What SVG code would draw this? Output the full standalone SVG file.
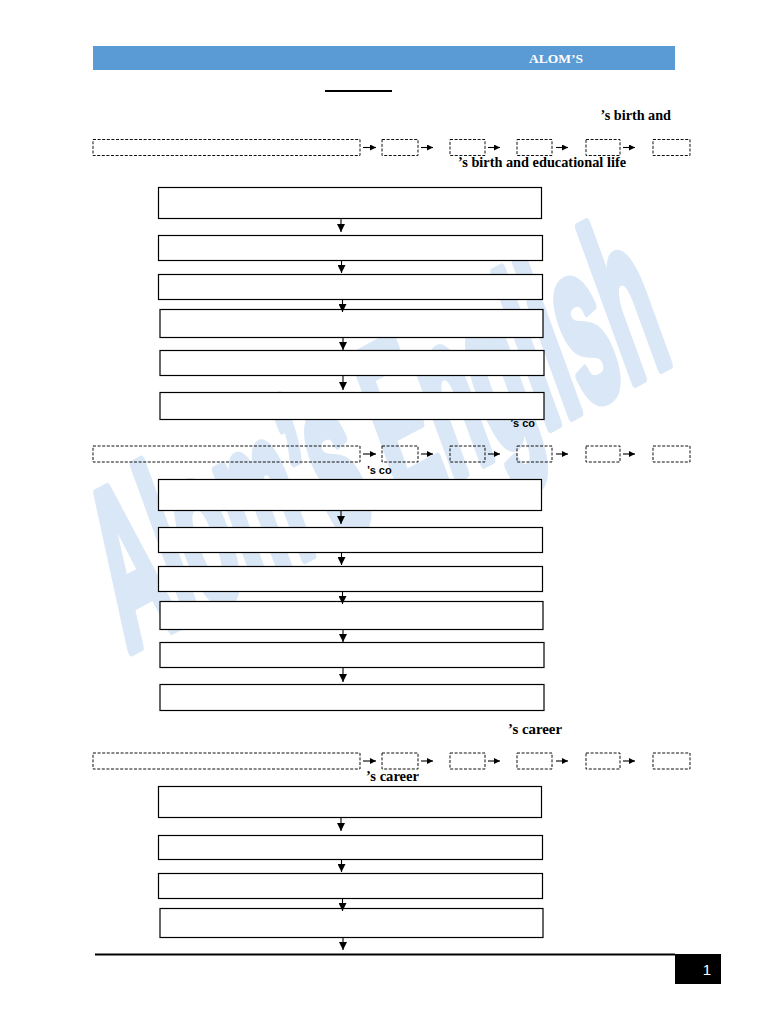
<svg xmlns="http://www.w3.org/2000/svg" width="768" height="1024" viewBox="0 0 768 1024">
<style>
.box{fill:#fff;stroke:#000;stroke-width:1.2}
.dash{fill:none;stroke:#111;stroke-width:1;stroke-dasharray:3,1.6}
.conn line{stroke:#000;stroke-width:1.1}
.ser{font-family:"Liberation Serif",serif;font-weight:bold;font-size:14.2px;fill:#000}
.sans{font-family:"Liberation Sans",sans-serif;font-weight:bold;font-size:11px;fill:#000}
</style>
<defs>
<marker id="ah" markerUnits="userSpaceOnUse" markerWidth="6" markerHeight="6" viewBox="0 0 6 6" refX="6" refY="3" orient="auto"><path d="M0,0 L6,3 L0,6 z" fill="#000"/></marker>
<marker id="av" markerUnits="userSpaceOnUse" markerWidth="8" markerHeight="8" viewBox="0 0 8 8" refX="8" refY="4" orient="auto"><path d="M0,0 L8,4 L0,8 z" fill="#000"/></marker>
</defs>
<rect width="768" height="1024" fill="#fff"/>
<g id="watermark">
<text transform="matrix(0.302,-0.161,0.308,0.846,128,652)" x="0" y="0" textLength="1810" lengthAdjust="spacingAndGlyphs" font-family="Liberation Sans, sans-serif" font-weight="bold" font-size="250" fill="#d9e7f6" stroke="#d9e7f6" stroke-width="13" stroke-linejoin="round">Alom’s English</text>
</g>
<g id="header">
<rect x="93" y="46" width="582" height="24" fill="#5b9bd5"/>
<text x="556" y="63" text-anchor="middle" font-family="Liberation Serif, serif" font-weight="bold" font-size="13.5" fill="#fff">ALOM’S</text>
<line x1="325" y1="91" x2="392" y2="91" stroke="#000" stroke-width="2"/>
</g>
<g id="labels">
<text class="ser" x="671" y="120" text-anchor="end">’s birth and</text>
<text class="ser" x="458" y="167" textLength="168" lengthAdjust="spacingAndGlyphs">’s birth and educational life</text>
<text class="sans" x="535" y="427" text-anchor="end">’s co</text>
<text class="sans" x="367" y="474">’s co</text>
<text class="ser" x="508" y="734" textLength="54" lengthAdjust="spacingAndGlyphs">’s career</text>
<text class="ser" x="366" y="781" textLength="53" lengthAdjust="spacingAndGlyphs">’s career</text>
</g>
<g id="row1">
<rect class="dash" x="93" y="139.5" width="267" height="16"/>
<rect class="dash" x="382" y="139.5" width="36" height="16"/>
<rect class="dash" x="450" y="139.5" width="35" height="16"/>
<rect class="dash" x="517" y="139.5" width="35" height="16"/>
<rect class="dash" x="586" y="139.5" width="34" height="16"/>
<rect class="dash" x="653" y="139.5" width="37" height="16"/>
</g>
<g id="row2">
<rect class="dash" x="93" y="446" width="267" height="16"/>
<rect class="dash" x="382" y="446" width="36" height="16"/>
<rect class="dash" x="450" y="446" width="35" height="16"/>
<rect class="dash" x="517" y="446" width="35" height="16"/>
<rect class="dash" x="586" y="446" width="34" height="16"/>
<rect class="dash" x="653" y="446" width="37" height="16"/>
</g>
<g id="row3">
<rect class="dash" x="93" y="753" width="267" height="16"/>
<rect class="dash" x="382" y="753" width="36" height="16"/>
<rect class="dash" x="450" y="753" width="35" height="16"/>
<rect class="dash" x="517" y="753" width="35" height="16"/>
<rect class="dash" x="586" y="753" width="34" height="16"/>
<rect class="dash" x="653" y="753" width="37" height="16"/>
</g>
<g id="box-a"><rect class="box" x="158.5" y="187.5" width="383" height="31"/></g>
<g id="box-b"><rect class="box" x="158.5" y="235.5" width="384" height="25"/></g>
<g id="box-c"><rect class="box" x="158.5" y="274.5" width="384" height="25"/></g>
<g id="box-d"><rect class="box" x="160" y="309.5" width="383" height="28"/></g>
<g id="box-e"><rect class="box" x="160" y="350.5" width="384" height="25"/></g>
<g id="box-f"><rect class="box" x="160" y="392.5" width="384" height="27"/></g>
<g id="box-g"><rect class="box" x="158.5" y="479.5" width="383" height="31"/></g>
<g id="box-h"><rect class="box" x="158.5" y="527.5" width="384" height="25"/></g>
<g id="box-i"><rect class="box" x="158.5" y="566.5" width="384" height="25"/></g>
<g id="box-j"><rect class="box" x="160" y="601.5" width="383" height="28"/></g>
<g id="box-k"><rect class="box" x="160" y="642.5" width="384" height="25"/></g>
<g id="box-l"><rect class="box" x="160" y="684.5" width="384" height="26"/></g>
<g id="box-m"><rect class="box" x="158.5" y="786.5" width="383" height="31"/></g>
<g id="box-n"><rect class="box" x="158.5" y="835.5" width="384" height="24"/></g>
<g id="box-o"><rect class="box" x="158.5" y="873.5" width="384" height="25"/></g>
<g id="box-p"><rect class="box" x="160" y="908.5" width="383" height="29"/></g>
<g id="footer">
<line x1="95" y1="954.5" x2="675" y2="954.5" stroke="#000" stroke-width="2"/>
<rect x="675" y="954" width="46" height="30" fill="#000"/>
<text x="707" y="975" text-anchor="middle" font-family="Liberation Sans, sans-serif" font-size="15" fill="#fff">1</text>
</g>
<g id="connectors" class="conn">
<line x1="363" y1="147.5" x2="376" y2="147.5" marker-end="url(#ah)"/>
<line x1="421" y1="147.5" x2="433" y2="147.5" marker-end="url(#ah)"/>
<line x1="488" y1="147.5" x2="500" y2="147.5" marker-end="url(#ah)"/>
<line x1="556" y1="147.5" x2="568" y2="147.5" marker-end="url(#ah)"/>
<line x1="623" y1="147.5" x2="635" y2="147.5" marker-end="url(#ah)"/>
<line x1="363" y1="454" x2="376" y2="454" marker-end="url(#ah)"/>
<line x1="421" y1="454" x2="433" y2="454" marker-end="url(#ah)"/>
<line x1="488" y1="454" x2="500" y2="454" marker-end="url(#ah)"/>
<line x1="556" y1="454" x2="568" y2="454" marker-end="url(#ah)"/>
<line x1="623" y1="454" x2="635" y2="454" marker-end="url(#ah)"/>
<line x1="363" y1="761" x2="376" y2="761" marker-end="url(#ah)"/>
<line x1="421" y1="761" x2="433" y2="761" marker-end="url(#ah)"/>
<line x1="488" y1="761" x2="500" y2="761" marker-end="url(#ah)"/>
<line x1="556" y1="761" x2="568" y2="761" marker-end="url(#ah)"/>
<line x1="623" y1="761" x2="635" y2="761" marker-end="url(#ah)"/>
<line x1="341" y1="218.5" x2="341" y2="232" marker-end="url(#av)"/>
<line x1="341.5" y1="260.5" x2="341.5" y2="273" marker-end="url(#av)"/>
<line x1="342.5" y1="299.5" x2="342.5" y2="312" marker-end="url(#av)"/>
<line x1="343" y1="337.5" x2="343" y2="350" marker-end="url(#av)"/>
<line x1="343" y1="375.5" x2="343" y2="390" marker-end="url(#av)"/>
<line x1="341" y1="510.5" x2="341" y2="524" marker-end="url(#av)"/>
<line x1="341.5" y1="552.5" x2="341.5" y2="565" marker-end="url(#av)"/>
<line x1="342.5" y1="591.5" x2="342.5" y2="604" marker-end="url(#av)"/>
<line x1="343" y1="629.5" x2="343" y2="642" marker-end="url(#av)"/>
<line x1="343" y1="667.5" x2="343" y2="682" marker-end="url(#av)"/>
<line x1="341" y1="817.5" x2="341" y2="831" marker-end="url(#av)"/>
<line x1="341.5" y1="859.5" x2="341.5" y2="872" marker-end="url(#av)"/>
<line x1="342.5" y1="898.5" x2="342.5" y2="911" marker-end="url(#av)"/>
<line x1="343" y1="937.5" x2="343" y2="950" marker-end="url(#av)"/>
</g>
</svg>
